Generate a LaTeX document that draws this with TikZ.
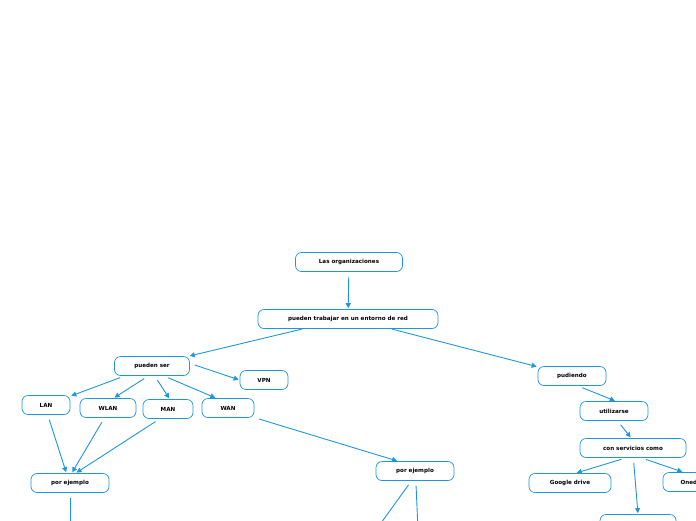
\documentclass[tikz,border=0pt]{standalone}
\usepackage{fontspec}
\setmainfont{DejaVu Sans}
\usetikzlibrary{arrows.meta}
\definecolor{bl}{RGB}{30,150,222}
\tikzset{
 box/.style={draw=bl,line width=0.7pt,rounded corners=6pt,minimum height=19pt,inner sep=0pt,font=\fontsize{5.6}{6}\selectfont\bfseries,fill=white},
 conn/.style={draw=bl,line width=0.9pt,-{Triangle[length=5pt,width=5pt]},shorten <=5pt,shorten >=1pt}
}
\begin{document}
\begin{tikzpicture}[x=1pt,y=-1pt]
\useasboundingbox (0,0) rectangle (696,520);
\clip (0,0) rectangle (696,520);
\node[box,minimum width=107pt] (org) at (349,262) {Las organizaciones};
\node[box,minimum width=180pt] (trab) at (348,319) {pueden trabajar en un entorno de red};
\node[box,minimum width=75pt] (ser) at (152,366) {pueden ser};
\node[box,minimum width=48pt] (vpn) at (264,380) {VPN};
\node[box,minimum width=48pt] (lan) at (46,405) {LAN};
\node[box,minimum width=56pt] (wlan) at (108,408) {WLAN};
\node[box,minimum width=50pt] (man) at (168,409) {MAN};
\node[box,minimum width=52pt] (wan) at (228,408) {WAN};
\node[box,minimum width=78pt] (ej1) at (70,483) {por ejemplo};
\node[box,minimum width=78pt] (ej2) at (415,471) {por ejemplo};
\node[box,minimum width=68pt] (pud) at (572,376) {pudiendo};
\node[box,minimum width=68pt] (uti) at (614,411) {utilizarse};
\node[box,minimum width=106pt] (con) at (633,448) {con servicios como};
\node[box,minimum width=82pt] (gd) at (570,483) {Google drive};
\node[box,minimum width=64pt] (od) at (695,482) {Onedrive};
\node[box,minimum width=76pt] (bot) at (638,524) {};
\coordinate (e1) at (70,530);
\coordinate (e2) at (376,530);
\coordinate (e3) at (418,530);
\draw[conn,shorten <=1pt] ([xshift=-45pt]trab.south) -- (ser.15);
\draw[conn,shorten <=1pt] ([xshift=43pt]trab.south) -- (pud.165);
\draw[conn] (org) -- (trab);
\draw[conn] (ser.4) -- (vpn.west);
\draw[conn] (ser.200) -- (lan.20);
\draw[conn] (ser.250) -- (wlan.60);
\draw[conn] (ser.285) -- (man.80);
\draw[conn] (ser.320) -- (wan.140);
\draw[conn] (lan.280) -- (ej1.110);
\draw[conn] (wlan.250) -- (ej1.80);
\draw[conn] (man.230) -- (ej1.60);
\draw[conn] (wan.340) -- (ej2.150);
\draw[conn] (pud.300) -- (uti.80);
\draw[conn] (uti.290) -- (con.100);
\draw[conn] (con.235) -- (gd.60);
\draw[conn] (con.310) -- (od.140);
\draw[conn] (con.272) -- (bot.north);
\draw[conn] (ej1.south) -- (e1);
\draw[conn] (ej2.250) -- (e2);
\draw[conn] (ej2.275) -- (e3);
\end{tikzpicture}
\end{document}
